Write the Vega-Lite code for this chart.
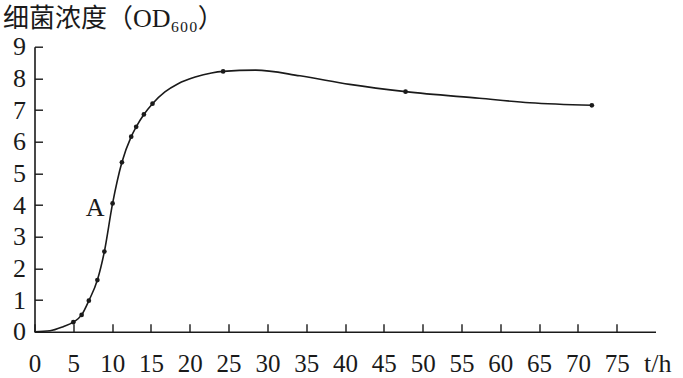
{
  "$schema": "https://vega.github.io/schema/vega-lite/v6.json",
  "autosize": "none",
  "width": 621,
  "height": 285,
  "padding": {"left": 34.5, "top": 46.7, "right": 27.5, "bottom": 46.3},
  "background": "white",
  "config": {
    "view": {"stroke": null}
  },
  "datasets": {
    "curve": [
      {"t": 0, "od": 0, "measured": false},
      {"t": 2, "od": 0.03, "measured": false},
      {"t": 3.7, "od": 0.16, "measured": false},
      {"t": 5.0, "od": 0.3, "measured": true},
      {"t": 6.07, "od": 0.53, "measured": true},
      {"t": 7.0, "od": 0.98, "measured": true},
      {"t": 8.1, "od": 1.63, "measured": true},
      {"t": 9.0, "od": 2.53, "measured": true},
      {"t": 10.06, "od": 4.05, "measured": true},
      {"t": 11.26, "od": 5.35, "measured": true},
      {"t": 12.46, "od": 6.16, "measured": true},
      {"t": 13.1, "od": 6.47, "measured": true},
      {"t": 14.09, "od": 6.86, "measured": true},
      {"t": 15.2, "od": 7.2, "measured": true},
      {"t": 16.8, "od": 7.57, "measured": false},
      {"t": 18.5, "od": 7.83, "measured": false},
      {"t": 20.7, "od": 8.04, "measured": false},
      {"t": 22.8, "od": 8.17, "measured": false},
      {"t": 24.3, "od": 8.22, "measured": true},
      {"t": 28.5, "od": 8.26, "measured": false},
      {"t": 34.2, "od": 8.08, "measured": false},
      {"t": 40.6, "od": 7.81, "measured": false},
      {"t": 47.8, "od": 7.58, "measured": true},
      {"t": 57.3, "od": 7.37, "measured": false},
      {"t": 63.8, "od": 7.23, "measured": false},
      {"t": 71.8, "od": 7.15, "measured": true}
    ],
    "labels": [{"t": 7.8, "od": 3.9, "text": "A"}]
  },
  "encoding": {
    "x": {
      "field": "t", "type": "quantitative",
      "scale": {"domain": [0, 80], "nice": false},
      "axis": {
        "values": [0, 5, 10, 15, 20, 25, 30, 35, 40, 45, 50, 55, 60, 65, 70, 75],
        "domainColor": "#1a1a1a",
        "domainWidth": 1.6,
        "tickColor": "#1a1a1a",
        "tickWidth": 1.4,
        "tickSize": -8,
        "grid": false,
        "labelFont": "Liberation Serif",
        "labelFontSize": 25,
        "labelColor": "#1a1a1a",
        "labelBaseline": "alphabetic",
        "labelPadding": 48,
        "labelFlush": false,
        "labelOverlap": false,
        "title": "t/h",
        "titleColor": "#1a1a1a",
        "titleFont": "Liberation Serif",
        "titleFontSize": 26,
        "titleFontWeight": "normal",
        "titleAnchor": "start",
        "titleAlign": "left",
        "titleBaseline": "alphabetic",
        "titleX": 609,
        "titleY": 40
      }
    },
    "y": {
      "field": "od", "type": "quantitative",
      "scale": {"domain": [0, 9], "nice": false},
      "axis": {
        "values": [0, 1, 2, 3, 4, 5, 6, 7, 8, 9],
        "domainColor": "#1a1a1a",
        "domainWidth": 1.6,
        "tickColor": "#1a1a1a",
        "tickWidth": 1.4,
        "tickSize": -8,
        "grid": false,
        "labelFont": "Liberation Serif",
        "labelFontSize": 26,
        "labelColor": "#1a1a1a",
        "labelPadding": 17,
        "labelFlush": false,
        "labelOverlap": false,
        "title": "细菌浓度（OD₆₀₀）",
        "titleColor": "#1a1a1a",
        "titleFont": "Liberation Serif, Noto Sans CJK SC",
        "titleFontSize": 26,
        "titleFontWeight": "normal",
        "titleAngle": 0,
        "titleAlign": "left",
        "titleBaseline": "alphabetic",
        "titleAnchor": "start",
        "titleX": -32,
        "titleY": -20
      }
    }
  },
  "layer": [
    {
      "data": {"name": "curve"},
      "mark": {"type": "line", "interpolate": "monotone", "color": "#1a1a1a", "strokeWidth": 1.6}
    },
    {
      "data": {"name": "curve"},
      "transform": [{"filter": "datum.measured"}],
      "mark": {"type": "point", "filled": true, "color": "#1a1a1a", "size": 22, "opacity": 1}
    },
    {
      "data": {"name": "labels"},
      "mark": {"type": "text", "font": "Liberation Serif", "fontSize": 26, "color": "#1a1a1a", "align": "center", "baseline": "middle"},
      "encoding": {
        "text": {"field": "text"}
      }
    }
  ]
}
